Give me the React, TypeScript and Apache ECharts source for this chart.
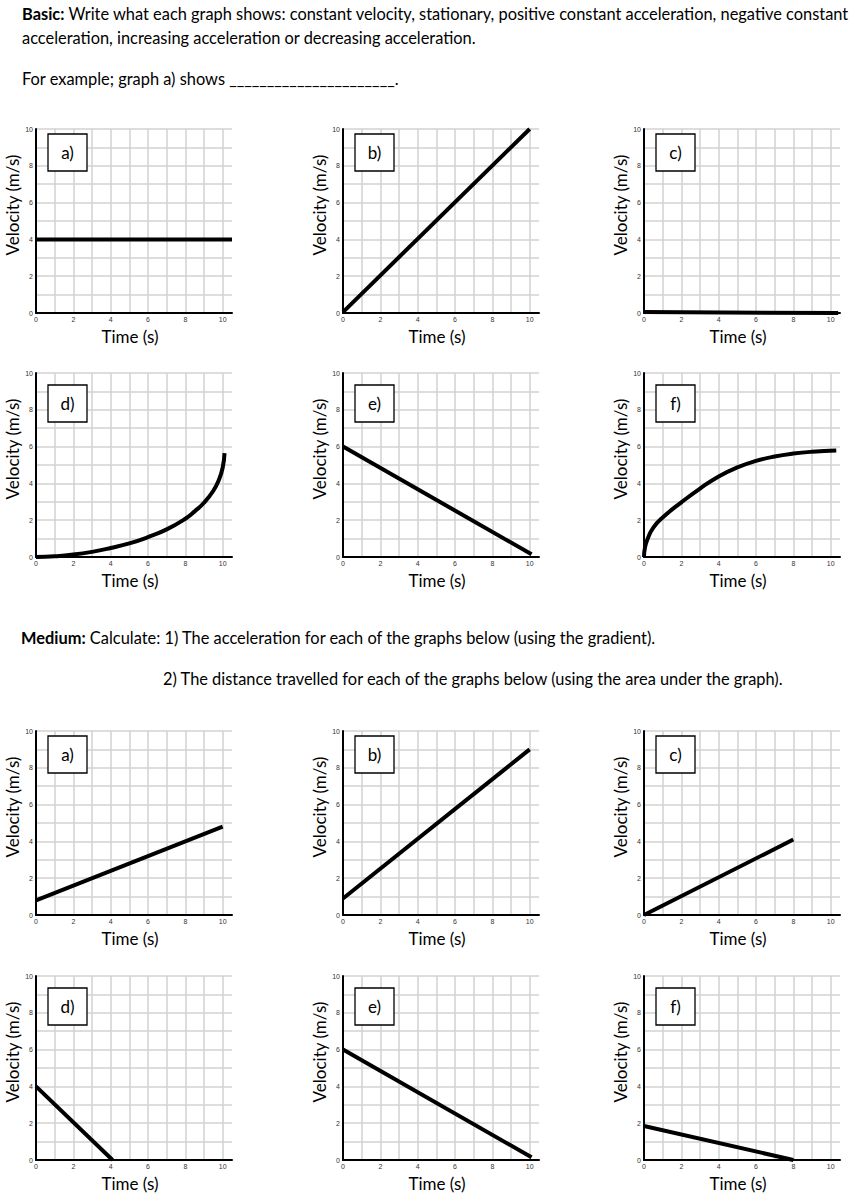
import React, { useEffect, useRef } from 'react';
import * as echarts from 'echarts';

// ---------- data ----------
const panelLabels = ['a)', 'b)', 'c)', 'd)', 'e)', 'f)'];
const xTickLabels = ['0', '2', '4', '6', '8', '10'];
const yTickLabels = ['0', '2', '4', '6', '8', '10'];
const xAxisTitle = 'Time (s)';
const yAxisTitle = 'Velocity (m/s)';

// Basic graphs
const basicA = [[0, 4], [10.5, 4]];
const basicB = [[0, 0.05], [10, 10]];
const basicC = [[0, 0.05], [10.4, 0]];
const basicD = [
  [0, 0], [1, 0.04], [2, 0.13], [3, 0.28], [4, 0.49], [5, 0.74], [6, 1.08], [7, 1.5],
  [8, 2.08], [8.5, 2.48], [9, 2.95], [9.5, 3.6], [9.8, 4.2], [10, 4.85], [10.1, 5.65],
];
const basicE = [[0, 6], [10.1, 0.15]];
const basicF = [
  [0, 0], [0.05, 0.5], [0.2, 1.0], [0.5, 1.6], [1, 2.15], [2, 2.97], [3, 3.72],
  [4, 4.38], [5, 4.87], [6, 5.22], [7, 5.46], [8, 5.62], [9, 5.72], [10.3, 5.79],
];

// Medium graphs
const mediumA = [[0, 0.8], [10, 4.8]];
const mediumB = [[0, 0.9], [10, 9]];
const mediumC = [[0, 0], [8, 4.1]];
const mediumD = [[0, 4], [4.1, 0]];
const mediumE = [[0, 6], [10.1, 0.15]];
const mediumF = [[0, 1.85], [8, 0]];

const allData = [basicA, basicB, basicC, basicD, basicE, basicF, mediumA, mediumB, mediumC, mediumD, mediumE, mediumF];
const curved = [false, false, false, true, false, true, false, false, false, false, false, false];

// ---------- layout ----------
const COL_X = [36, 343, 644];
const ROW_TOP = [129, 373, 731, 976];
const BOX_DY = [5, 12, 5, 12];
const GRID_W = 196;
const GRID_H = 184;
const TEXT_FONT = 'Lato';
const PARA_SIZE = 16.4;

export default function App() {
  const ref = useRef<HTMLDivElement>(null);

  useEffect(() => {
    if (!ref.current) return;
    const chart = echarts.init(ref.current, null, { renderer: 'svg' });

    const grids: any[] = [];
    const xAxes: any[] = [];
    const yAxes: any[] = [];
    const series: any[] = [];
    const graphics: any[] = [];

    allData.forEach((data, i) => {
      const row = Math.floor(i / 3);
      const col = i % 3;
      const left = COL_X[col];
      const top = ROW_TOP[row];
      grids.push({ left, top, width: GRID_W, height: GRID_H, containLabel: false, outerBoundsMode: 'none' });
      xAxes.push({
        gridIndex: i,
        type: 'value',
        min: 0,
        max: 10.5,
        interval: 1,
        axisLine: { show: true, onZero: false, lineStyle: { color: '#000', width: 2 } },
        axisTick: { show: false },
        axisLabel: {
          fontSize: 7,
          color: '#333',
          margin: 3,
          fontFamily: 'Liberation Sans',
          formatter: (v: number) => (xTickLabels.includes(String(v)) ? String(v) : ''),
        },
        splitLine: { show: true, showMaxLine: false, lineStyle: { color: '#d2d2d2', width: 1.5 } },
        name: xAxisTitle,
        nameLocation: 'middle',
        nameGap: 15,
        nameTextStyle: { fontSize: 17, fontFamily: TEXT_FONT, color: '#000', verticalAlign: 'top', padding: [0, 8, 0, 0] },
      });
      yAxes.push({
        gridIndex: i,
        type: 'value',
        min: 0,
        max: 10,
        interval: 1,
        axisLine: { show: true, onZero: false, lineStyle: { color: '#000', width: 2 } },
        axisTick: { show: false },
        axisLabel: {
          fontSize: 7,
          color: '#333',
          margin: 3,
          fontFamily: 'Liberation Sans',
          formatter: (v: number) => (yTickLabels.includes(String(v)) ? String(v) : ''),
        },
        splitLine: { show: true, showMinLine: false, lineStyle: { color: '#d2d2d2', width: 1.5 } },
        name: yAxisTitle,
        nameLocation: 'middle',
        nameGap: 14,
        nameRotate: 90,
        nameTextStyle: { fontSize: 17, fontFamily: TEXT_FONT, color: '#000', padding: [0, 0, 0, 32] },
      });
      series.push({
        type: 'line',
        xAxisIndex: i,
        yAxisIndex: i,
        data,
        smooth: curved[i] ? 0.5 : false,
        symbol: 'none',
        showSymbol: false,
        clip: false,
        lineStyle: { color: '#000', width: 4 },
        z: 5,
      });
      const bx = left + 12;
      const by = top + BOX_DY[row];
      graphics.push({
        type: 'rect',
        z: 100,
        shape: { x: bx, y: by, width: 39, height: 37 },
        style: { fill: '#fff', stroke: '#000', lineWidth: 1.3 },
      });
      graphics.push({
        type: 'text',
        z: 101,
        x: bx + 19.5,
        y: by + 18,
        style: {
          text: panelLabels[i % 6],
          fontSize: 17,
          fontFamily: TEXT_FONT,
          fill: '#000',
          align: 'center',
          verticalAlign: 'middle',
        },
      });
    });

    const para = (text: string, x: number, y: number) => ({
      type: 'text',
      z: 101,
      x,
      y,
      style: {
        text,
        fontSize: PARA_SIZE,
        fontFamily: TEXT_FONT,
        fill: '#000',
        align: 'left',
        verticalAlign: 'middle',
        rich: {
          b: { fontWeight: 'bold', fontSize: PARA_SIZE, fontFamily: TEXT_FONT, fill: '#000' },
          n: { fontSize: PARA_SIZE, fontFamily: TEXT_FONT, fill: '#000' },
        },
      },
    });

    graphics.push(para('{b|Basic:}{n| Write what each graph shows: constant velocity, stationary, positive constant acceleration, negative constant}', 22, 13));
    graphics.push(para('{n|acceleration, increasing acceleration or decreasing acceleration.}', 22, 37));
    graphics.push(para('{n|For example; graph a) shows ______________________.}', 22, 78));
    graphics.push(para('{b|Medium:}{n| Calculate: 1) The acceleration for each of the graphs below (using the gradient).}', 21, 637));
    graphics.push(para('{n|2) The distance travelled for each of the graphs below (using the area under the graph).}', 163, 678));

    chart.setOption({
      animation: false,
      backgroundColor: '#fff',
      grid: grids,
      xAxis: xAxes,
      yAxis: yAxes,
      series,
      graphic: { elements: graphics },
    });

    return () => chart.dispose();
  }, []);

  return (
    <div
      ref={ref}
      style={{ position: 'absolute', left: 0, top: 0, width: 865, height: 1200, background: '#fff' }}
    />
  );
}
